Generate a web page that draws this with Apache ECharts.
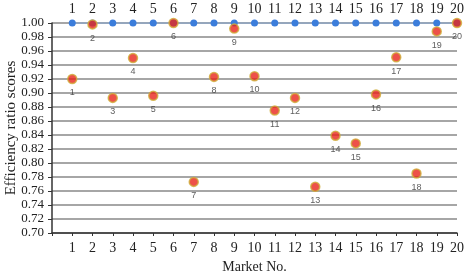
<!DOCTYPE html>
<html><head><meta charset="utf-8">
<script src="https://cdn.jsdelivr.net/npm/echarts@6/dist/echarts.min.js"></script>
<style>html,body{margin:0;padding:0;background:#fff}#c{width:474px;height:278px}</style>
</head><body><div id="c"></div>
<script>
var markets = [1,2,3,4,5,6,7,8,9,10,11,12,13,14,15,16,17,18,19,20];
var blueScores = [1,1,1,1,1,1,1,1,1,1,1,1,1,1,1,1,1,1,1,1];
var redScores = [0.920,0.998,0.893,0.950,0.896,1.000,0.773,0.923,0.992,0.924,0.875,0.893,0.766,0.839,0.828,0.898,0.951,0.785,0.988,1.000];
var yTicks = [0.70,0.72,0.74,0.76,0.78,0.80,0.82,0.84,0.86,0.88,0.90,0.92,0.94,0.96,0.98,1.00];

var serif = "Liberation Serif";
var chart = echarts.init(document.getElementById('c'));
chart.setOption({
  animation:false,
  grid:{left:52,right:17,top:23,bottom:45,containLabel:false,outerBoundsMode:'none'},
  xAxis:[{
    type:'value',min:0,max:20,interval:1,position:'bottom',
    name:'Market No.',nameLocation:'middle',nameGap:27,nameMoveOverlap:false,
    nameTextStyle:{fontFamily:serif,fontSize:14,color:'#222'},
    axisLine:{lineStyle:{color:'#333',width:1.5}},
    axisTick:{show:true,length:3,inside:false,lineStyle:{color:'#333'}},
    axisLabel:{fontFamily:serif,fontSize:14,color:'#222',margin:8,
      formatter:function(v){return v===0?'':String(v);}},
    splitLine:{show:false}
  },{
    type:'value',min:0,max:20,interval:1,position:'top',
    axisLine:{show:false},axisTick:{show:false},
    axisLabel:{fontFamily:serif,fontSize:14,color:'#222',margin:7,
      formatter:function(v){return v===0?'':String(v);}},
    splitLine:{show:false}
  }],
  yAxis:{
    type:'value',min:0.70,max:1.00,interval:0.02,
    name:'Efficiency ratio scores',nameLocation:'middle',nameGap:33,nameMoveOverlap:false,
    nameTextStyle:{fontFamily:serif,fontSize:15,color:'#222'},
    axisLine:{show:true,lineStyle:{color:'#333',width:1.5}},
    axisTick:{show:true,length:4,lineStyle:{color:'#333'}},
    axisLabel:{fontFamily:serif,fontSize:13,color:'#222',margin:8,
      formatter:function(v){return v.toFixed(2);}},
    splitLine:{show:true,lineStyle:{color:'#a6a6a6',width:2}}
  },
  series:[{
    type:'line',
    data:markets.map(function(m,i){return [m,blueScores[i]];}),
    symbol:'circle',symbolSize:7,
    lineStyle:{color:'#8da6c8',width:1.5},
    itemStyle:{color:'#3b7ddb'},
    z:3
  },{
    type:'scatter',
    data:markets.map(function(m,i){return [m,redScores[i]];}),
    symbol:'circle',symbolSize:9,
    itemStyle:{color:'#e8261b',borderColor:'#cfae3a',borderWidth:1.5},
    label:{show:true,position:'bottom',distance:4,fontFamily:'Liberation Sans',fontSize:9,color:'#333',
      formatter:function(p){return String(markets[p.dataIndex]);}},
    z:4
  }]
});
</script></body></html>
